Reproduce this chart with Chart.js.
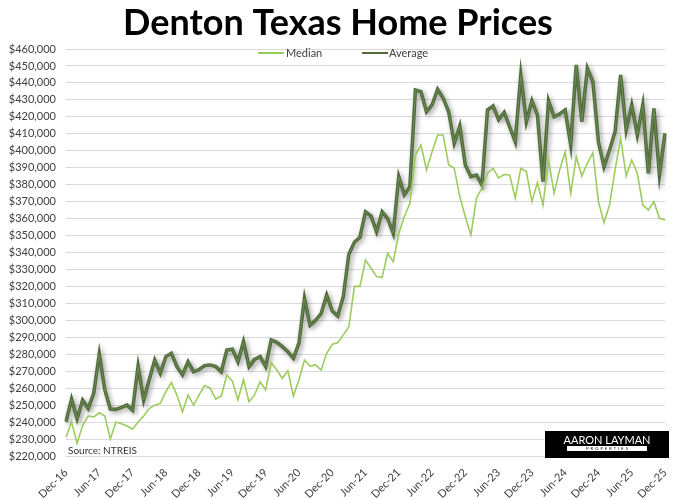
<!DOCTYPE html>
<html>
<head>
<meta charset="utf-8">
<script src="https://cdn.jsdelivr.net/npm/chart.js@4.4.1/dist/chart.umd.min.js"></script>
<style>
body { margin: 0; background: #fff; }
#wrap { width: 681px; height: 500px; }
</style>
</head>
<body>
<div id="wrap"><canvas id="priceChart" width="681" height="500"></canvas></div>
<script>
// months Dec-16 .. Dec-25
const monthNames = ['Jan', 'Feb', 'Mar', 'Apr', 'May', 'Jun', 'Jul', 'Aug', 'Sep', 'Oct', 'Nov', 'Dec'];
const months = [];
for (let i = 0; i < 109; i++) {
    let m = (11 + i) % 12;
    let y = 16 + Math.floor((11 + i) / 12);
    months.push(monthNames[m] + '-' + y);
}

const medianPrice = [
    231000, 240000, 227500, 238000, 243600, 243000, 245500, 243600, 230000, 240000,
    239000, 237700, 235800, 240000, 243600, 248000, 250000, 251000, 258000, 263300,
    256000, 246000, 256000, 250000, 256000, 261500, 260000, 253500, 255400, 267800,
    264200, 253000, 265000, 252000, 256000, 263800, 259000, 275000, 270700, 265800,
    270300, 255400, 265000, 276600, 273000, 273700, 270700, 280600, 285900, 286800,
    291400, 296300, 320000, 320000, 335600, 330700, 325800, 325400, 339500, 334600,
    351300, 361100, 369000, 397500, 403400, 388700, 399400, 409300, 409300, 391600,
    389700, 373000, 361100, 350300, 372000, 377900, 386700, 389700, 384000, 386000,
    385700, 372000, 389700, 387700, 370000, 381200, 368000, 394600, 374900, 388700,
    399400, 374900, 396500, 385100, 392600, 398900, 370000, 357600, 368000, 388700,
    407400, 385100, 394600, 386700, 368000, 365100, 370000, 360200, 359200
];

const averagePrice = [
    240200, 253500, 242000, 253000, 248000, 257000, 280000, 259000, 247700, 247500,
    248700, 250000, 247000, 273000, 253000, 265000, 276600, 268800, 278600, 280600,
    272700, 267800, 275600, 269700, 271000, 273300, 273700, 272700, 269700, 282500,
    283000, 275600, 287400, 272700, 277000, 278600, 272700, 288400, 287000, 284500,
    281500, 277600, 286500, 313000, 297000, 300000, 304000, 315000, 305500, 302500,
    314000, 339000, 346000, 349000, 364000, 361500, 352300, 364000, 360000, 351300,
    384700, 374000, 378800, 435800, 434800, 423000, 427000, 436200, 431000, 423000,
    404400, 414600, 391600, 384700, 385700, 379800, 424000, 426400, 418300, 422700,
    414000, 405300, 444700, 417000, 429500, 421000, 381800, 429500, 420000, 421700,
    424000, 403400, 450600, 417000, 448600, 440700, 405300, 390600, 400400, 411200,
    444700, 412200, 427000, 409300, 427000, 386700, 425000, 385700, 410300
];

const seriesNames = ['Median', 'Average'];
const medianColor = '#9ccc5e';
const averageColor = '#4f6b38';

const fontFamily = 'Lato, "Open Sans", sans-serif';

// shadow under the average line + title, legend, source, logo
const decorPlugin = {
    id: 'decor',
    beforeDatasetDraw(chart, args) {
        if (args.index === 1) {
            const ctx = chart.ctx;
            ctx.save();
            ctx.shadowColor = 'rgba(0,0,0,0.4)';
            ctx.shadowBlur = 5;
            ctx.shadowOffsetX = 2;
            ctx.shadowOffsetY = 2;
        }
    },
    afterDatasetDraw(chart, args) {
        if (args.index === 1) {
            chart.ctx.restore();
        }
    },
    afterDraw(chart) {
        const ctx = chart.ctx;
        ctx.save();
        // title
        ctx.fillStyle = '#000';
        ctx.font = 'bold 36px ' + fontFamily;
        ctx.textAlign = 'center';
        ctx.textBaseline = 'middle';
        ctx.fillText('Denton Texas Home Prices', 338, 23);

        // legend
        ctx.font = '11px ' + fontFamily;
        ctx.textAlign = 'left';
        ctx.fillStyle = '#404040';
        ctx.lineWidth = 2;
        ctx.strokeStyle = medianColor;
        ctx.beginPath(); ctx.moveTo(258, 53); ctx.lineTo(284, 53); ctx.stroke();
        ctx.fillText(seriesNames[0], 286, 53);
        ctx.strokeStyle = averageColor;
        ctx.beginPath(); ctx.moveTo(362, 53); ctx.lineTo(388, 53); ctx.stroke();
        ctx.fillText(seriesNames[1], 389, 53);

        // source
        ctx.font = '10px ' + fontFamily;
        ctx.fillStyle = '#333';
        ctx.fillText('Source: NTREIS', 68, 451);

        // logo box
        ctx.fillStyle = '#000';
        ctx.fillRect(545, 431, 124, 27);
        ctx.fillStyle = '#fff';
        ctx.font = '11px ' + fontFamily;
        ctx.textAlign = 'center';
        ctx.fillText('AARON LAYMAN', 607, 440);
        ctx.fillRect(567, 446, 80, 5);
        ctx.fillStyle = '#000';
        ctx.font = '4px ' + fontFamily;
        ctx.fillText('P  R  O  P  E  R  T  I  E  S', 607, 448.5);
        ctx.restore();
    }
};

const ctx = document.getElementById('priceChart').getContext('2d');
const chart = new Chart(ctx, {
    type: 'line',
    data: {
        labels: months,
        datasets: [{
            label: seriesNames[0],
            data: medianPrice,
            borderColor: medianColor,
            borderWidth: 1.6,
            pointRadius: 0,
            tension: 0,
            order: 0
        }, {
            label: seriesNames[1],
            data: averagePrice,
            borderColor: averageColor,
            borderWidth: 3.5,
            pointRadius: 0,
            tension: 0,
            order: 2
        }, {
            label: 'avgInner',
            data: averagePrice,
            borderColor: '#6e8c57',
            borderWidth: 1,
            pointRadius: 0,
            tension: 0,
            order: 1
        }]
    },
    options: {
        responsive: false,
        animation: false,
        layout: { padding: { left: 0, right: 16, top: 49, bottom: 0 } },
        plugins: {
            legend: { display: false },
            title: { display: false },
            tooltip: { enabled: false }
        },
        scales: {
            x: {
                offset: false,
                grid: { display: false },
                border: { display: false },
                ticks: {
                    autoSkip: false,
                    maxRotation: 45,
                    minRotation: 45,
                    padding: 2,
                    color: '#404040',
                    font: { family: fontFamily, size: 11 },
                    callback: function (value, index) {
                        return index % 6 === 0 ? months[index] : '';
                    }
                },
                afterFit: function (scale) { scale.height = 44; }
            },
            y: {
                min: 220000,
                max: 460000,
                grid: { color: '#d9d9d9', drawTicks: false },
                border: { display: false },
                ticks: {
                    stepSize: 10000,
                    padding: 10,
                    color: '#404040',
                    font: { family: fontFamily, size: 11 },
                    callback: function (value) {
                        return '$' + value.toLocaleString('en-US');
                    }
                },
                afterFit: function (scale) { scale.width = 66; }
            }
        }
    },
    plugins: [decorPlugin]
});
</script>
</body>
</html>
